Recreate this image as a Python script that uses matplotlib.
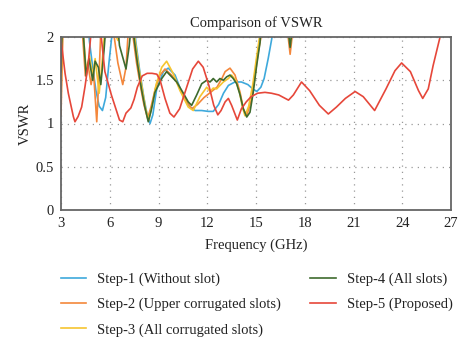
import matplotlib
matplotlib.use("Agg")
import matplotlib.pyplot as plt

plt.rcParams['font.family'] = ['Liberation Serif', 'DejaVu Serif']

# ---- data ----
f1 = [3.0, 3.07, 4.6, 4.75, 4.95, 5.15, 5.35, 5.55, 5.75, 5.95, 6.15, 6.25, 7.45, 7.6, 7.85, 8.1, 8.3,
      8.48, 8.65, 8.89, 9.3, 9.6, 10.02, 10.43, 10.83, 11.25, 11.66, 12.06, 12.37, 12.7, 13.0, 13.3,
      13.7, 14.1, 14.5, 14.8, 15.05, 15.3, 15.5, 15.75, 15.97, 16.1]
v1 = [1.5, 2.3, 2.3, 1.95, 1.65, 1.38, 1.2, 1.15, 1.3, 1.7, 2.05, 2.3, 2.3, 1.95, 1.6, 1.3, 1.1,
      1.0, 1.1, 1.40, 1.60, 1.64, 1.56, 1.36, 1.21, 1.15, 1.15, 1.14, 1.14, 1.22, 1.35, 1.44,
      1.48, 1.48, 1.45, 1.40, 1.37, 1.42, 1.52, 1.75, 1.98, 2.3]

f2 = [3.0, 3.15, 4.3, 4.5, 4.65, 4.85, 5.0, 5.2, 5.35, 5.5, 6.2, 6.5, 6.8, 7.0, 7.15, 7.4, 7.65, 7.9,
      8.1, 8.33, 8.55, 8.8, 9.1, 9.4, 9.8, 10.12, 10.63, 11.04, 11.4, 11.8, 12.2, 12.6, 12.9, 13.1,
      13.4, 13.71, 14.02, 14.22, 14.43, 14.74, 14.94, 15.14, 15.29, 15.4, 16.95, 17.1, 17.25]
v2 = [1.1, 2.3, 2.1, 1.55, 1.70, 1.45, 1.6, 1.02, 1.6, 2.3, 2.1, 1.7, 1.45, 1.65, 2.1, 2.05, 1.7, 1.42,
      1.22, 1.06, 1.2, 1.4, 1.56, 1.63, 1.56, 1.48, 1.29, 1.17, 1.22, 1.30, 1.36, 1.42, 1.52, 1.60,
      1.64, 1.56, 1.36, 1.17, 1.09, 1.29, 1.56, 1.83, 1.98, 2.3, 2.05, 1.80, 2.05]

f3 = [3.0, 3.08, 4.35, 4.55, 4.75, 4.95, 5.1, 5.35, 5.55, 5.7, 6.3, 6.5, 6.65, 7.5, 7.75, 8.0, 8.2,
      8.4, 8.6, 8.85, 9.2, 9.5, 9.9, 10.32, 10.83, 11.14, 11.55, 11.97, 12.17, 12.37, 12.58, 12.99,
      13.3, 13.5, 13.75, 14.0, 14.15, 14.32, 14.55, 14.8, 15.0, 15.2, 15.35, 17.0, 17.1, 17.2]
v3 = [1.3, 2.3, 2.1, 1.6, 1.78, 1.55, 1.75, 1.35, 1.75, 2.1, 2.05, 1.96, 2.05, 2.05, 1.7, 1.4, 1.18,
      1.04, 1.2, 1.45, 1.65, 1.72, 1.58, 1.38, 1.19, 1.15, 1.31, 1.42, 1.37, 1.41, 1.40, 1.48,
      1.52, 1.56, 1.50, 1.35, 1.2, 1.09, 1.2, 1.45, 1.72, 1.98, 2.3, 2.05, 1.92, 2.05]

f4 = [3.0, 3.1, 4.35, 4.55, 4.72, 4.95, 5.1, 5.3, 5.45, 5.65, 5.75, 6.5, 6.6, 7.0, 7.2, 7.3, 7.45,
      7.7, 7.95, 8.15, 8.37, 8.55, 8.78, 9.2, 9.5, 9.81, 10.12, 10.53, 10.83, 11.04, 11.35, 11.66,
      11.97, 12.17, 12.37, 12.58, 12.78, 12.99, 13.2, 13.4, 13.6, 13.81, 14.02, 14.22, 14.43,
      14.63, 14.83, 15.04, 15.25, 15.35, 17.0, 17.1, 17.2]
v4 = [1.6, 2.3, 2.1, 1.55, 1.75, 1.50, 1.72, 1.65, 1.45, 1.85, 2.1, 2.1, 1.9, 1.63, 1.9, 2.1, 2.05,
      1.7, 1.4, 1.2, 1.02, 1.15, 1.36, 1.52, 1.60, 1.54, 1.48, 1.35, 1.25, 1.21, 1.33, 1.46,
      1.50, 1.48, 1.52, 1.48, 1.52, 1.50, 1.54, 1.56, 1.52, 1.46, 1.33, 1.17, 1.075,
      1.13, 1.36, 1.67, 1.94, 2.3, 2.05, 1.88, 2.05]

f5 = [3.0, 3.25, 3.45, 3.76, 3.86, 4.05, 4.27, 4.48, 4.68, 4.85, 5.2, 5.45, 5.7, 6.1, 6.6, 6.8, 7.0,
      7.3, 7.5, 7.7, 8.0, 8.3, 8.6, 8.9, 9.1, 9.4, 9.7, 9.95, 10.3, 10.7, 11.1, 11.45, 11.75, 12.1,
      12.4, 12.65, 12.85, 13.1, 13.3, 13.5, 13.85, 14.1, 14.4, 14.7, 15.1, 15.55, 15.95, 16.4, 16.8,
      17.0, 17.3, 17.8, 18.3, 18.9, 19.45, 19.95, 20.5, 21.1, 21.6, 22.3, 23.0, 23.55, 23.96, 24.5,
      25.0, 25.26, 25.6, 25.9, 26.3, 26.45]
v5 = [1.97, 1.58, 1.35, 1.08, 1.02, 1.08, 1.19, 1.43, 1.70, 2.05, 2.2, 2.05, 1.6, 1.33, 1.04, 1.02, 1.12,
      1.18, 1.28, 1.42, 1.55, 1.58, 1.58, 1.57, 1.50, 1.29, 1.12, 1.075, 1.17, 1.40, 1.63, 1.72, 1.65, 1.44,
      1.21, 1.10, 1.15, 1.25, 1.29, 1.21, 1.04, 1.17, 1.25, 1.31, 1.35, 1.36, 1.35, 1.33, 1.29,
      1.27, 1.33, 1.48, 1.38, 1.21, 1.11, 1.19, 1.29, 1.37, 1.31, 1.15, 1.40, 1.61, 1.70, 1.60,
      1.38, 1.29, 1.40, 1.67, 1.98, 2.1]

labels = ["Step-1 (Without slot)", "Step-2 (Upper corrugated slots)", "Step-3 (All corrugated slots)",
          "Step-4 (All slots)", "Step-5 (Proposed)"]
colors = ["#3ea9dc", "#f4873b", "#f6c530", "#3e6b2e", "#e6473a"]
xticks = [3, 6, 9, 12, 15, 18, 21, 24, 27]
yticks = [0, 0.5, 1, 1.5, 2]
ytick_labels = ["0", "0.5", "1", "1.5", "2"]

# ---- figure ----
fig = plt.figure(figsize=(4.74, 3.55), dpi=100)
ax = fig.add_axes([61/474, 1-210/355, (451-61)/474, (210-37)/355])

series = [(f1, v1), (f2, v2), (f3, v3), (f4, v4), (f5, v5)]
for (f, v), lab, c in zip(series, labels, colors):
    ax.plot(f, v, color=c, lw=1.2, label=lab)

ax.set_xlim(3, 27)
ax.set_ylim(0, 2)
ax.set_xticks(xticks)
ax.set_yticks(yticks)
ax.set_yticklabels(ytick_labels)
ax.tick_params(length=0, labelsize=10.5, pad=5, colors="#222222")
ax.grid(True, color="#999999", linestyle=(0, (1, 4)), lw=0.9)
for s in ax.spines.values():
    s.set_color("#666666")
    s.set_linewidth(1.3)

ax.set_title("Comparison of VSWR", fontsize=10.5, pad=7, color="#222222")
ax.set_xlabel("Frequency (GHz)", fontsize=10.5, labelpad=6, color="#222222")
ax.set_ylabel("VSWR", fontsize=10.5, labelpad=3, color="#222222")

handles, labs = ax.get_legend_handles_labels()
leg = fig.legend(handles, labs, loc="upper left", bbox_to_anchor=(55/474, 1-267/355), ncol=2,
                 frameon=False, fontsize=10.5, handlelength=1.75, handletextpad=0.75,
                 columnspacing=2.0, labelspacing=0.8, borderaxespad=0)
for t in leg.get_texts():
    t.set_color("#222222")

fig.savefig("out.png", dpi=100)
